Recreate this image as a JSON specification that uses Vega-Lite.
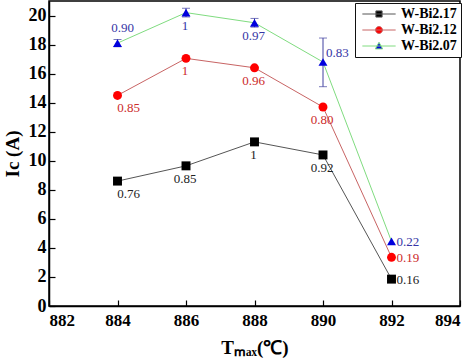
{
  "$schema": "https://vega.github.io/schema/vega-lite/v6.json",
  "autosize": "none",
  "width": 411,
  "height": 305,
  "padding": {"left": 49, "top": 1, "right": 14, "bottom": 58},
  "background": "white",
  "config": {
    "view": {"stroke": "black", "strokeWidth": 1.5},
    "font": "Liberation Serif",
    "axis": {
      "grid": false,
      "domainColor": "black",
      "domainWidth": 1.5,
      "tickColor": "black",
      "tickWidth": 1.2,
      "tickSize": -6,
      "labelFont": "Liberation Serif",
      "labelFontWeight": "bold",
      "labelFontSize": 17,
      "labelColor": "black",
      "titleFont": "Liberation Serif",
      "titleFontWeight": "bold",
      "titleColor": "black"
    }
  },
  "data": {
    "values": [
      {"series": "W-Bi2.17", "T": 884, "Ic": 8.6, "ratio": "0.76"},
      {"series": "W-Bi2.17", "T": 886, "Ic": 9.65, "ratio": "0.85"},
      {"series": "W-Bi2.17", "T": 888, "Ic": 11.3, "ratio": "1"},
      {"series": "W-Bi2.17", "T": 890, "Ic": 10.4, "ratio": "0.92"},
      {"series": "W-Bi2.17", "T": 892, "Ic": 1.85, "ratio": "0.16"},
      {"series": "W-Bi2.12", "T": 884, "Ic": 14.5, "ratio": "0.85"},
      {"series": "W-Bi2.12", "T": 886, "Ic": 17.05, "ratio": "1"},
      {"series": "W-Bi2.12", "T": 888, "Ic": 16.4, "ratio": "0.96"},
      {"series": "W-Bi2.12", "T": 890, "Ic": 13.7, "ratio": "0.80"},
      {"series": "W-Bi2.12", "T": 892, "Ic": 3.35, "ratio": "0.19"},
      {"series": "W-Bi2.07", "T": 884, "Ic": 18.1, "ratio": "0.90", "lo": 17.85, "hi": 18.35},
      {"series": "W-Bi2.07", "T": 886, "Ic": 20.2, "ratio": "1", "lo": 19.9, "hi": 20.5},
      {"series": "W-Bi2.07", "T": 888, "Ic": 19.5, "ratio": "0.97", "lo": 19.2, "hi": 19.8},
      {"series": "W-Bi2.07", "T": 890, "Ic": 16.8, "ratio": "0.83", "lo": 15.1, "hi": 18.45},
      {"series": "W-Bi2.07", "T": 892, "Ic": 4.45, "ratio": "0.22"}
    ]
  },
  "encoding": {
    "x": {
      "field": "T", "type": "quantitative",
      "scale": {"domain": [882, 894], "nice": false, "zero": false},
      "axis": {"values": [882, 884, 886, 888, 890, 892, 894], "format": "d", "title": "Tₘₐₓ(℃)", "titleFontSize": 19, "titlePadding": 10, "labelPadding": 12}
    },
    "y": {
      "field": "Ic", "type": "quantitative",
      "scale": {"domain": [0, 21], "nice": false},
      "axis": {"values": [0, 2, 4, 6, 8, 10, 12, 14, 16, 18, 20], "title": "Ic (A)", "titleFontSize": 19, "titlePadding": 6, "labelPadding": 9, "labelFontSize": 18}
    }
  },
  "layer": [
    {
      "mark": {"type": "line", "strokeWidth": 1},
      "encoding": {
        "detail": {"field": "series", "type": "nominal"},
        "stroke": {
          "condition": [
            {"test": "datum.series == 'W-Bi2.17'", "value": "#555555"},
            {"test": "datum.series == 'W-Bi2.12'", "value": "#c86464"}
          ],
          "value": "#80dc80"
        }
      }
    },
    {
      "transform": [{"filter": "isValid(datum.lo)"}],
      "mark": {"type": "errorbar", "ticks": {"size": 8, "color": "#4040a0"}, "rule": {"color": "#4040a0"}, "thickness": 1},
      "encoding": {
        "y": {"field": "lo", "type": "quantitative"},
        "y2": {"field": "hi"}
      }
    },
    {
      "mark": {"type": "point", "filled": true, "opacity": 1, "size": 80},
      "encoding": {
        "fill": {
          "condition": [
            {"test": "datum.series == 'W-Bi2.17'", "value": "#000000"},
            {"test": "datum.series == 'W-Bi2.12'", "value": "#ff0000"}
          ],
          "value": "#0000dd"
        },
        "shape": {
          "condition": [
            {"test": "datum.series == 'W-Bi2.17'", "value": "square"},
            {"test": "datum.series == 'W-Bi2.12'", "value": "circle"}
          ],
          "value": "triangle-up"
        }
      }
    },
    {
      "transform": [{"filter": "false"}],
      "mark": {"type": "point", "filled": true, "opacity": 1, "strokeWidth": 1},
      "encoding": {
        "fill": {
          "field": "series", "type": "nominal", "title": null,
          "scale": {"domain": ["W-Bi2.17", "W-Bi2.12", "W-Bi2.07"], "range": ["#000000", "#ff0000", "#0000dd"]},
          "legend": {
            "orient": "none", "legendX": 306, "legendY": 2,
            "strokeColor": "#111111", "padding": 4, "fillColor": "white",
            "labelFont": "Liberation Serif", "labelFontWeight": "bold", "labelFontSize": 14, "labelColor": "black",
            "symbolSize": 60, "symbolStrokeWidth": 1, "rowPadding": 2, "symbolOffset": 13, "labelOffset": 15
          }
        },
        "stroke": {
          "field": "series", "type": "nominal", "title": null,
          "scale": {"domain": ["W-Bi2.17", "W-Bi2.12", "W-Bi2.07"], "range": ["#555555", "#c86464", "#80dc80"]}
        },
        "shape": {
          "field": "series", "type": "nominal", "title": null,
          "scale": {"domain": ["W-Bi2.17", "W-Bi2.12", "W-Bi2.07"], "range": ["M-4.3,0H4.3M-0.8,-0.8H0.8V0.8H-0.8Z", "M-4.3,0H4.3M-0.9,0A0.9,0.9 0 1,0 0.9,0A0.9,0.9 0 1,0 -0.9,0Z", "M-4.3,0H4.3M0,-0.95L0.95,0.75L-0.95,0.75Z"]}
        }
      }
    },
    {
      "transform": [{"filter": "datum.T >= 886 && datum.T <= 890 && !(datum.series == 'W-Bi2.07' && datum.T == 890)"}],
      "mark": {"type": "text", "fontSize": 13, "dy": 13, "dx": -1, "baseline": "middle"},
      "encoding": {"text": {"field": "ratio"}, "color": {"condition": [{"test": "datum.series == 'W-Bi2.17'", "value": "#222222"}, {"test": "datum.series == 'W-Bi2.12'", "value": "#cc2a2a"}], "value": "#3535a5"}}
    },
    {
      "transform": [{"filter": "datum.T == 884 && datum.series != 'W-Bi2.07'"}],
      "mark": {"type": "text", "fontSize": 13, "dy": 13, "dx": 11, "baseline": "middle"},
      "encoding": {"text": {"field": "ratio"}, "color": {"condition": [{"test": "datum.series == 'W-Bi2.17'", "value": "#222222"}, {"test": "datum.series == 'W-Bi2.12'", "value": "#cc2a2a"}], "value": "#3535a5"}}
    },
    {
      "transform": [{"filter": "datum.T == 884 && datum.series == 'W-Bi2.07'"}],
      "mark": {"type": "text", "fontSize": 13, "dy": -15, "dx": 5, "baseline": "middle"},
      "encoding": {"text": {"field": "ratio"}, "color": {"condition": [{"test": "datum.series == 'W-Bi2.17'", "value": "#222222"}, {"test": "datum.series == 'W-Bi2.12'", "value": "#cc2a2a"}], "value": "#3535a5"}}
    },
    {
      "transform": [{"filter": "datum.T == 892"}],
      "mark": {"type": "text", "fontSize": 13, "dy": 1, "dx": 5, "align": "left", "baseline": "middle"},
      "encoding": {"text": {"field": "ratio"}, "color": {"condition": [{"test": "datum.series == 'W-Bi2.17'", "value": "#222222"}, {"test": "datum.series == 'W-Bi2.12'", "value": "#cc2a2a"}], "value": "#3535a5"}}
    },
    {
      "transform": [{"filter": "datum.T == 890 && datum.series == 'W-Bi2.07'"}],
      "mark": {"type": "text", "fontSize": 13, "dy": -9, "dx": 3, "align": "left", "baseline": "middle"},
      "encoding": {"text": {"field": "ratio"}, "color": {"condition": [{"test": "datum.series == 'W-Bi2.17'", "value": "#222222"}, {"test": "datum.series == 'W-Bi2.12'", "value": "#cc2a2a"}], "value": "#3535a5"}}
    }
  ]
}
